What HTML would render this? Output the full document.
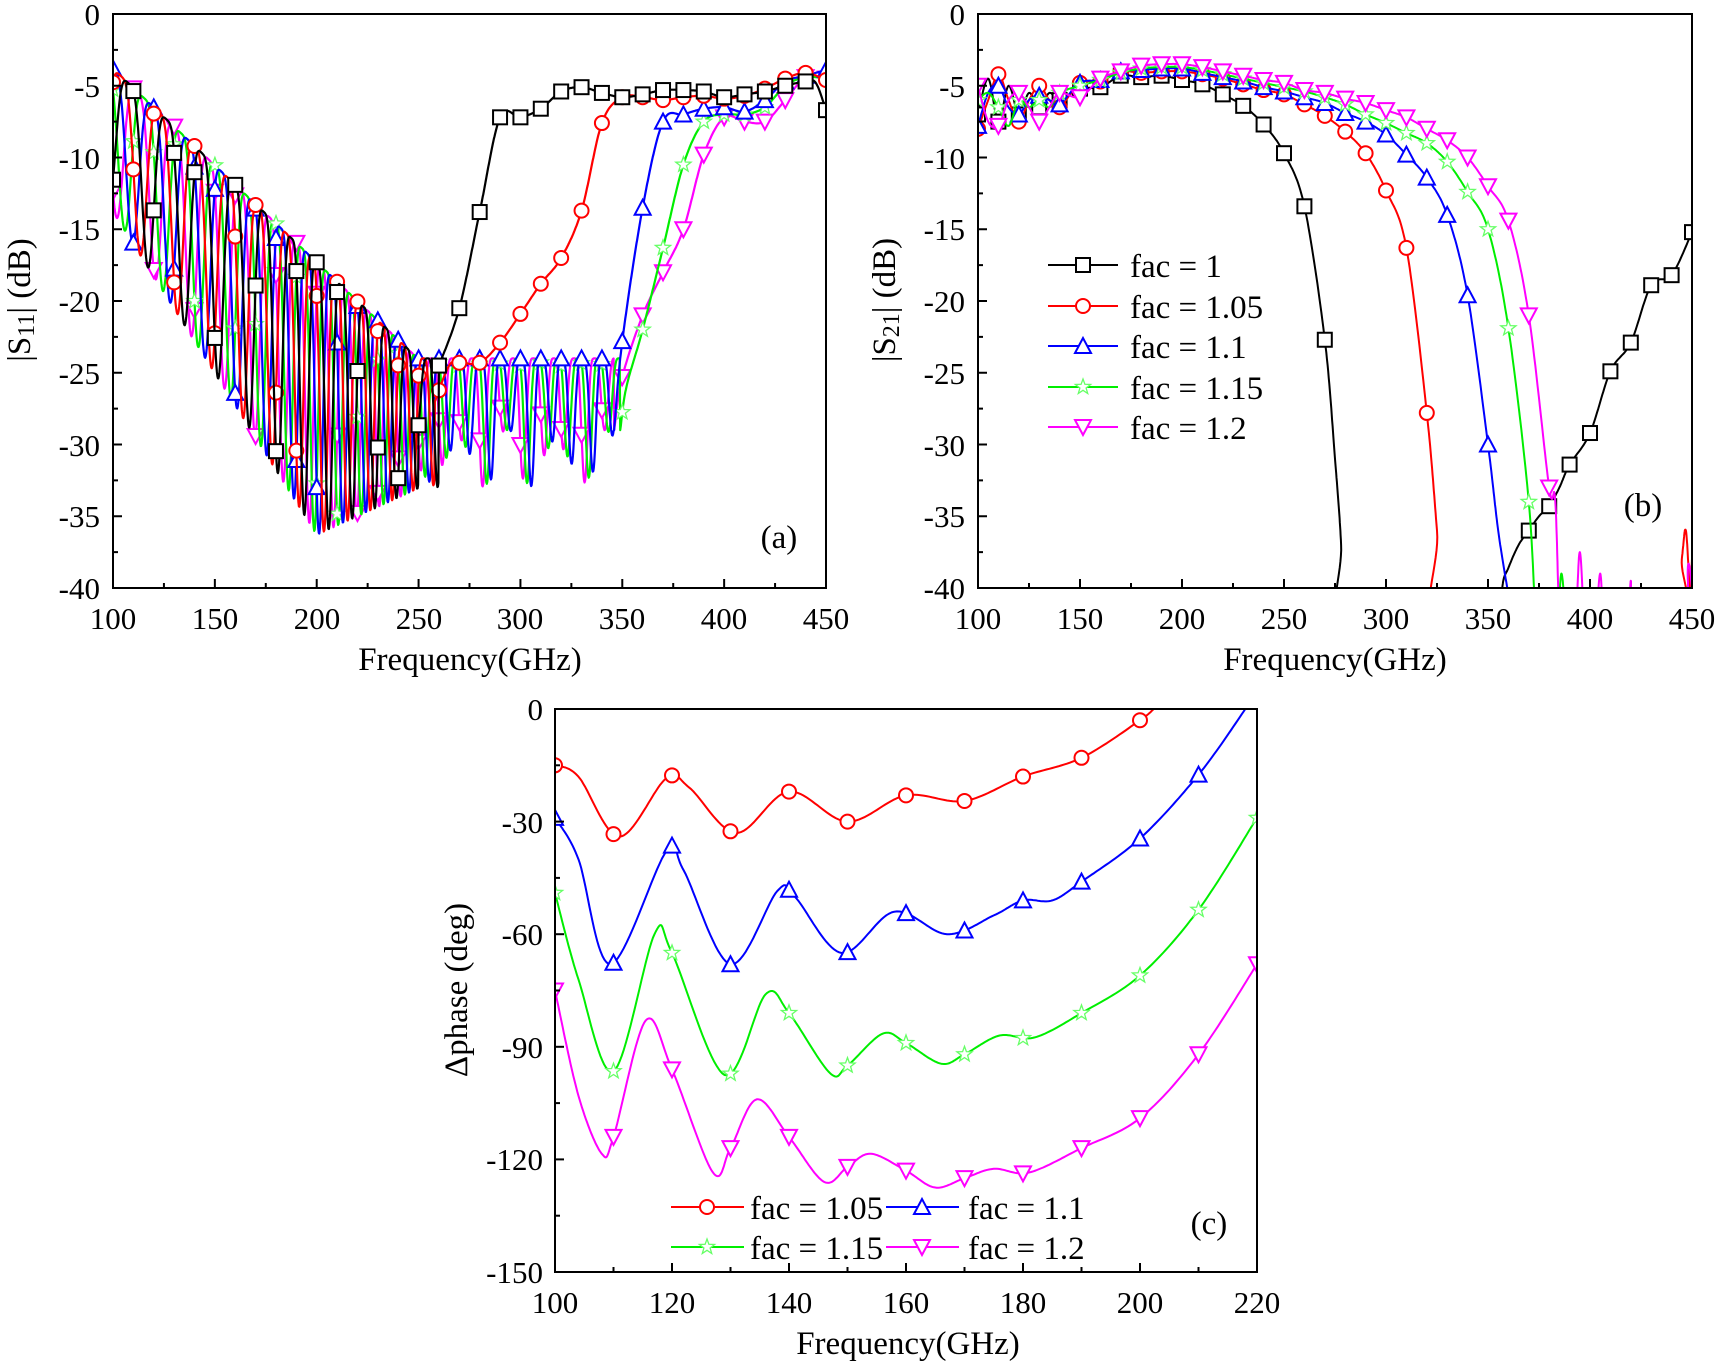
<!DOCTYPE html>
<html><head><meta charset="utf-8">
<style>
html,body{margin:0;padding:0;background:#fff;}
svg{display:block;}
text{font-family:"Liberation Serif","DejaVu Serif",serif;fill:#000;}
.tk{font-size:31px;}
.lab{font-size:33px;}
</style></head>
<body>
<svg id="s" width="1715" height="1365" viewBox="0 0 1715 1365" xmlns="http://www.w3.org/2000/svg" font-family="Liberation Serif, DejaVu Serif, serif">
<defs>
<clipPath id="ca"><rect x="113" y="14" width="713" height="574"/></clipPath>
<clipPath id="cb"><rect x="978" y="14" width="714" height="574"/></clipPath>
<clipPath id="cc"><rect x="555" y="709" width="702" height="563"/></clipPath>
</defs>
<g id="ga" clip-path="url(#ca)"></g>
<g id="gb" clip-path="url(#cb)"></g>
<g id="gc" clip-path="url(#cc)"></g>
<g id="ticks" stroke="#000" stroke-width="2"></g>
<g id="leg"></g>
<g fill="none" stroke="#000" stroke-width="2">
<rect x="113" y="14" width="713" height="574"/>
<rect x="978" y="14" width="714" height="574"/>
<rect x="555" y="709" width="702" height="563"/>
</g>
<g class="tk" text-anchor="end">
<text x="100" y="25">0</text><text x="100" y="97">-5</text><text x="100" y="169">-10</text>
<text x="100" y="240">-15</text><text x="100" y="312">-20</text><text x="100" y="384">-25</text>
<text x="100" y="456">-30</text><text x="100" y="527">-35</text><text x="100" y="599">-40</text>
</g>
<g class="tk" text-anchor="middle">
<text x="113" y="629">100</text><text x="215" y="629">150</text><text x="317" y="629">200</text>
<text x="419" y="629">250</text><text x="520" y="629">300</text><text x="622" y="629">350</text>
<text x="724" y="629">400</text><text x="826" y="629">450</text>
</g>
<text class="lab" x="470" y="670" text-anchor="middle">Frequency(GHz)</text>
<text class="lab" transform="translate(30,300) rotate(-90)" text-anchor="middle">|S<tspan font-size="24" dy="4">11</tspan><tspan dy="-4">| (dB)</tspan></text>
<text class="lab" x="779" y="548" text-anchor="middle">(a)</text>
<g class="tk" text-anchor="end">
<text x="965" y="25">0</text><text x="965" y="97">-5</text><text x="965" y="169">-10</text>
<text x="965" y="240">-15</text><text x="965" y="312">-20</text><text x="965" y="384">-25</text>
<text x="965" y="456">-30</text><text x="965" y="527">-35</text><text x="965" y="599">-40</text>
</g>
<g class="tk" text-anchor="middle">
<text x="978" y="629">100</text><text x="1080" y="629">150</text><text x="1182" y="629">200</text>
<text x="1284" y="629">250</text><text x="1386" y="629">300</text><text x="1488" y="629">350</text>
<text x="1590" y="629">400</text><text x="1692" y="629">450</text>
</g>
<text class="lab" x="1335" y="670" text-anchor="middle">Frequency(GHz)</text>
<text class="lab" transform="translate(895,300) rotate(-90)" text-anchor="middle">|S<tspan font-size="24" dy="4">21</tspan><tspan dy="-4">| (dB)</tspan></text>
<text class="lab" x="1643" y="516" text-anchor="middle">(b)</text>
<g class="lab">
<text x="1130" y="277">fac = 1</text>
<text x="1130" y="318">fac = 1.05</text>
<text x="1130" y="358">fac = 1.1</text>
<text x="1130" y="399">fac = 1.15</text>
<text x="1130" y="439">fac = 1.2</text>
</g>
<g class="tk" text-anchor="end">
<text x="543" y="720">0</text><text x="543" y="833">-30</text><text x="543" y="945">-60</text>
<text x="543" y="1058">-90</text><text x="543" y="1170">-120</text><text x="543" y="1283">-150</text>
</g>
<g class="tk" text-anchor="middle">
<text x="555" y="1313">100</text><text x="672" y="1313">120</text><text x="789" y="1313">140</text>
<text x="906" y="1313">160</text><text x="1023" y="1313">180</text><text x="1140" y="1313">200</text>
<text x="1257" y="1313">220</text>
</g>
<text class="lab" x="908" y="1354" text-anchor="middle">Frequency(GHz)</text>
<text class="lab" transform="translate(467,990) rotate(-90)" text-anchor="middle">Δphase (deg)</text>
<text class="lab" x="1209" y="1234" text-anchor="middle">(c)</text>
<g class="lab">
<text x="750" y="1219">fac = 1.05</text>
<text x="968" y="1219">fac = 1.1</text>
<text x="750" y="1259">fac = 1.15</text>
<text x="968" y="1259">fac = 1.2</text>
</g>
</svg>
<script>
var NS="http://www.w3.org/2000/svg";
function el(p,t,a){var e=document.createElementNS(NS,t);for(var k in a)e.setAttribute(k,a[k]);p.appendChild(e);return e;}
var PA={x0:113,x1:826,y0:14,y1:588,xmin:100,xmax:450,ymin:-40,ymax:0};
var PB={x0:978,x1:1692,y0:14,y1:588,xmin:100,xmax:450,ymin:-40,ymax:0};
var PC={x0:555,x1:1257,y0:709,y1:1272,xmin:100,xmax:220,ymin:-150,ymax:0};
function X(P,f){return P.x0+(f-P.xmin)/(P.xmax-P.xmin)*(P.x1-P.x0);}
function Y(P,v){return P.y0+(P.ymax-v)/(P.ymax-P.ymin)*(P.y1-P.y0);}
var COL=["#000000","#ff0000","#0000ff","#00ee00","#ff00ff"];
function marker(g,type,x,y,c){
  var s=7;
  if(type==0) el(g,"rect",{x:x-s,y:y-s,width:2*s,height:2*s,fill:"#fff",stroke:c,"stroke-width":2});
  else if(type==1) el(g,"circle",{cx:x,cy:y,r:s,fill:"#fff",stroke:c,"stroke-width":2});
  else if(type==2) el(g,"polygon",{points:(x)+","+(y-s-1)+" "+(x-s-1)+","+(y+s)+" "+(x+s+1)+","+(y+s),fill:"#fff",stroke:c,"stroke-width":2});
  else if(type==4) el(g,"polygon",{points:(x)+","+(y+s+1)+" "+(x-s-1)+","+(y-s)+" "+(x+s+1)+","+(y-s),fill:"#fff",stroke:c,"stroke-width":2});
  else {var p=[];for(var i=0;i<10;i++){var r=i%2?3.3:8,a=-Math.PI/2+i*Math.PI/5;p.push((x+r*Math.cos(a)).toFixed(1)+","+(y+r*Math.sin(a)).toFixed(1));}
    el(g,"polygon",{points:p.join(" "),fill:"#fff",stroke:"#66ff66","stroke-width":1.3});}
}
function dense(pts){var out=[];for(var i=0;i<pts.length-1;i++){var p0=pts[i-1]||pts[i],p1=pts[i],p2=pts[i+1],p3=pts[i+2]||pts[i+1];
  for(var k=0;k<20;k++){var t=k/20,t2=t*t,t3=t2*t;
   var f=function(a,b,c,d){return 0.5*((2*b)+(-a+c)*t+(2*a-5*b+4*c-d)*t2+(-a+3*b-3*c+d)*t3);};
   out.push([f(p0[0],p1[0],p2[0],p3[0]),f(p0[1],p1[1],p2[1],p3[1])]);}}
  out.push(pts[pts.length-1]);return out;}
function interp(d,f){for(var i=0;i<d.length-1;i++){if(d[i][0]<=f&&d[i+1][0]>=f){var t=(f-d[i][0])/((d[i+1][0]-d[i][0])||1);return d[i][1]+t*(d[i+1][1]-d[i][1]);}}return null;}
function draw(g,P,d,c,type,mk,w){
  var s="";d.forEach(function(p,i){s+=(i?"L":"M")+X(P,p[0]).toFixed(1)+","+Y(P,Math.max(p[1],P.ymin-5)).toFixed(1);});
  el(g,"path",{d:s,fill:"none",stroke:c,"stroke-width":w||2,"stroke-linejoin":"round"});
  mk.forEach(function(f){var v=interp(d,f);if(v!==null&&v>P.ymin+(P.ymax-P.ymin)*0.05)marker(g,type,X(P,f),Y(P,v),c);});
}
function range(a,b,s){var r=[];for(var f=a;f<=b+1e-9;f+=s)r.push(f);return r;}
var ga=document.getElementById("ga");
var rise=[
 [[260,-24.5],[270,-20.5],[280,-13.8],[290,-7.2],[300,-7.2],[310,-6.6],[320,-5.4],[330,-5.1],[340,-5.5],[350,-5.8],[360,-5.6],[370,-5.3],[380,-5.3],[390,-5.4],[400,-5.8],[410,-5.6],[420,-5.4],[430,-5.0],[440,-4.7],[445,-4.8],[450,-6.7]],
 [[258,-27],[265,-24.5],[270,-24.3],[280,-24.3],[290,-22.9],[300,-20.9],[310,-18.8],[320,-17],[330,-13.7],[340,-7.6],[350,-5.8],[360,-5.8],[370,-6],[380,-5.8],[390,-5.7],[400,-5.9],[410,-5.7],[420,-5.2],[430,-4.5],[440,-4.1],[450,-4.6]],
 [[346,-29],[350,-22.8],[360,-13.5],[370,-7.5],[380,-7],[390,-6.6],[400,-6.5],[410,-6.8],[420,-6],[430,-4.7],[440,-4.3],[450,-3.9]],
 [[349,-29],[352,-26],[360,-22],[370,-16.3],[380,-10.5],[390,-7.5],[400,-7],[410,-7],[420,-6.5],[430,-5],[440,-4.4],[450,-4.5]],
 [[346,-29],[350,-25.3],[360,-21],[370,-18],[380,-15],[390,-9.8],[400,-7.2],[410,-7.5],[420,-7.5],[430,-6],[440,-4.4],[450,-4.5]]
];
var cut=[262,260,346,349,346];
for(var si=4;si>=0;si--){
  var rd=dense(rise[si]);var d=[];var th=si*0.2+0.1;
  for(var f=100;f<=450;f+=0.25){
    var PP=f<200?20-0.08*(f-100):(f<250?12-0.04*(f-200):10);
    th+=0.25/PP;
    var env=f<250?-3.8-0.135*(f-100):-24;
    var D=f<200?10+0.09*(f-100):(f<250?19-0.2*(f-200):7+2*Math.sin(f*0.37+si));
    var c=Math.cos(Math.PI*th);var y=env-D*Math.pow(c*c,2);
    if(f>=rise[si][0][0]){var r=interp(rd,f);if(f>=cut[si])y=r;else y=Math.max(y,r);}
    d.push([f,y]);
  }
  draw(ga,PA,d,COL[si],si,range(100,450,10),2.2);
}
var gb=document.getElementById("gb");
var sb=[
 [[100,-7],[105,-4.5],[110,-7.5],[115,-5],[120,-7],[125,-5.5],[130,-6.5],[135,-5.5],[140,-6],[150,-5.2],[160,-5.1],[170,-4.3],[180,-4.4],[190,-4.3],[200,-4.6],[210,-4.9],[220,-5.6],[230,-6.4],[240,-7.7],[250,-9.7],[260,-13.4],[270,-22.7],[275,-31],[278,-37],[280,-45],[355,-45],[357,-40],[360,-38.6],[365,-37],[370,-36],[375,-35],[380,-34.3],[385,-33],[390,-31.4],[400,-29.2],[410,-24.9],[420,-22.9],[430,-18.9],[440,-18.2],[450,-15.2]],
 [[100,-8],[105,-6],[110,-4.2],[115,-6],[120,-7.5],[125,-6],[130,-5],[135,-6],[140,-6.5],[150,-4.8],[160,-4.7],[170,-4.0],[180,-4.1],[190,-4.0],[200,-4.0],[210,-4.2],[220,-4.5],[230,-4.9],[240,-5.3],[250,-5.6],[260,-6.3],[270,-7.1],[280,-8.2],[290,-9.7],[300,-12.3],[310,-16.3],[320,-27.8],[325,-36],[330,-45],[440,-45],[445,-38],[447,-36],[449,-40],[450,-38]],
 [[100,-7.8],[105,-5.5],[110,-5],[115,-6.5],[120,-7],[125,-6],[130,-5.7],[135,-6],[140,-6.3],[150,-4.8],[160,-4.6],[170,-4.0],[180,-3.9],[190,-3.8],[200,-3.8],[210,-4.1],[220,-4.4],[230,-4.7],[240,-5.1],[250,-5.4],[260,-5.8],[270,-6.2],[280,-6.9],[290,-7.5],[300,-8.4],[310,-9.8],[320,-11.4],[330,-14],[340,-19.6],[350,-30],[355,-36],[360,-40.5],[365,-45]],
 [[100,-6],[105,-5.5],[110,-6.5],[115,-7.8],[120,-6],[125,-6.5],[130,-6],[135,-6.5],[140,-5.5],[150,-5],[160,-4.6],[170,-4.1],[180,-3.8],[190,-3.7],[200,-3.7],[210,-3.9],[220,-4.2],[230,-4.5],[240,-4.8],[250,-5.1],[260,-5.4],[270,-5.8],[280,-6.3],[290,-7],[300,-7.6],[310,-8.3],[320,-9.0],[330,-10.3],[340,-12.4],[350,-15],[360,-21.9],[370,-34],[375,-45],[383,-45],[386,-39],[389,-45]],
 [[100,-5],[105,-7.5],[110,-7.8],[115,-6],[120,-5.5],[125,-6.5],[130,-7.5],[135,-6.5],[140,-5.5],[150,-5.8],[160,-4.5],[170,-4],[180,-3.6],[190,-3.5],[200,-3.5],[210,-3.7],[220,-4.0],[230,-4.3],[240,-4.6],[250,-4.8],[260,-5.3],[270,-5.5],[280,-5.9],[290,-6.2],[300,-6.7],[310,-7.2],[320,-8],[330,-8.8],[340,-10],[350,-12],[360,-14.4],[370,-21],[380,-33],[383,-34],[386,-45],[392,-45],[395,-37.5],[398,-45],[402,-45],[405,-39],[408,-45],[418,-45],[420,-39.5],[422,-45],[446,-45],[448,-38.5],[450,-40]]
];
for(var si=0;si<5;si++){draw(gb,PB,dense(sb[si]),COL[si],si,range(100,450,10));}
var gc=document.getElementById("gc");
var sc=[null,
 [[100,-15],[104,-18],[111,-34],[119,-18.5],[123,-21],[131,-33],[140,-22],[150,-30],[160,-23],[170,-24.5],[180,-18],[190,-13],[200,-3],[203,1],[206,5]],
 [[100,-29],[104,-40],[109.5,-68],[119,-38],[122,-43],[130,-68],[138,-48.5],[141,-50],[149,-65],[158,-54],[167,-60],[175,-55],[180,-51],[185,-51],[190,-46],[200,-34.5],[210,-17.5],[218,0],[222,10]],
 [[100,-49],[104,-72],[110,-96.5],[117,-60],[120,-65],[129,-97.5],[136,-76],[140,-81],[147,-97],[150,-95],[156,-86.5],[160,-89],[166,-94.5],[170,-92],[176,-87],[182,-87.5],[190,-81],[200,-71],[210,-53.5],[220,-29]],
 [[100,-75],[104,-103],[108,-118.5],[110,-114],[115.5,-83],[120,-96],[127,-123.5],[130,-117],[134.5,-104],[140,-114],[146,-126],[150,-122],[154,-118.5],[160,-123],[165,-127.5],[170,-125],[175,-122.5],[181,-123.5],[190,-117],[200,-109],[210,-92],[220,-68]]
];
for(var si=1;si<5;si++){draw(gc,PC,dense(sc[si]),COL[si],si,range(100,220,10));}
var tg=document.getElementById("ticks");
function tick(x1,y1,x2,y2){el(tg,"line",{x1:x1,y1:y1,x2:x2,y2:y2});}
[PA,PB].forEach(function(P){
  for(var v=0;v>=-40;v-=2.5){var y=Y(P,v),L=(v%5==0)?9:5;tick(P.x0,y,P.x0+L,y);}
  for(var f=100;f<=450;f+=25){var x=X(P,f),L=(f%50==0)?9:5;tick(x,P.y1,x,P.y1-L);}
});
for(var v=0;v>=-150;v-=15){var y=Y(PC,v),L=(v%30==0)?9:5;tick(PC.x0,y,PC.x0+L,y);}
for(var f=100;f<=220;f+=10){var x=X(PC,f),L=(f%20==0)?9:5;tick(x,PC.y1,x,PC.y1-L);}
var lg=document.getElementById("leg");
var ly=[265,306,346,387,427];
for(var si=0;si<5;si++){el(lg,"line",{x1:1048,y1:ly[si],x2:1118,y2:ly[si],stroke:COL[si],"stroke-width":2});marker(lg,si,1083,ly[si],COL[si]);}
var lc=[[1,671,1207],[2,886,1207],[3,671,1247],[4,886,1247]];
lc.forEach(function(a){el(lg,"line",{x1:a[1],y1:a[2],x2:a[1]+73,y2:a[2],stroke:COL[a[0]],"stroke-width":2});marker(lg,a[0],a[1]+36,a[2],COL[a[0]]);});
</script>
</body></html>
